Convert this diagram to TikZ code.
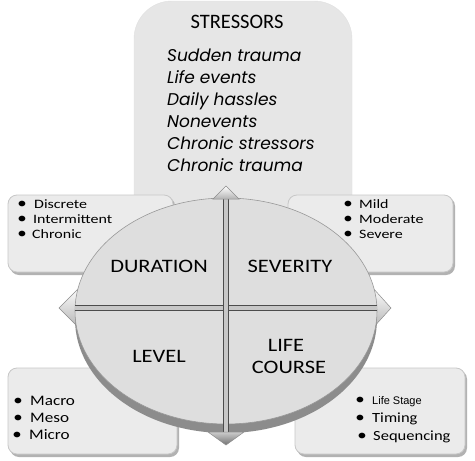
\documentclass[tikz,border=0pt]{standalone}
\usepackage{fontspec}
\setmainfont{Carlito}
\newfontfamily\widefont{Carlito}[FakeStretch=1.18]
\newfontfamily\widerfont{Carlito}[FakeStretch=1.25]
\newfontfamily\gothic{Poppins}
\newfontfamily\arialfont{Liberation Sans}
\newcommand{\bigbul}{\makebox[10pt][c]{\fontsize{16}{16}\selectfont\widefont •}}
\definecolor{boxfill}{HTML}{EBEBEB}
\definecolor{topfill}{HTML}{E6E6E6}
\definecolor{discfill}{HTML}{DEDEDE}
\begin{document}
\begin{tikzpicture}[x=1pt,y=-1pt,
  sidebox/.style={fill=boxfill,draw=black!22,line width=0.8pt,rounded corners=9pt},
  boxshadow/.style={fill=black!30,rounded corners=9pt},
  bulletline/.style={anchor=base west,inner sep=0pt,font=\widerfont\fontsize{12.8}{15}\selectfont},
  quadlabel/.style={anchor=base,inner sep=0pt,font=\widefont\fontsize{19}{22}\selectfont},
  listline/.style={anchor=base west,inner sep=0pt,font=\gothic\itshape\fontsize{17}{20}\selectfont},
  tipshape/.style={top color=white,bottom color=black!30,draw=black!45,line width=0.5pt},
  crossbar/.style={draw=black!70,line width=1.3pt,double=black!22,double distance=3.4pt}
]
\useasboundingbox (0,0) rectangle (475,461);
\fill[white] (0,0) rectangle (475,461);
% top box
\path[fill=topfill,draw=black!12,rounded corners=38pt] (134,1) rectangle (352,300);
\node[anchor=base,inner sep=0pt,font=\fontsize{20.5}{24}\selectfont] (title) at (237,28) {STRESSORS};
\node[listline] (l1) at (167,61) {Sudden trauma};
\node[listline] (l2) at (167,83) {Life events};
\node[listline] (l3) at (167,105) {Daily hassles};
\node[listline] (l4) at (167,127) {Nonevents};
\node[listline] (l5) at (167,149) {Chronic stressors};
\node[listline] (l6) at (167,171) {Chronic trauma};
% side boxes
\fill[boxshadow] (10,197) rectangle (175,275);
\path[sidebox] (8,195) rectangle (173,272);
\fill[boxshadow] (290,197) rectangle (455,275);
\path[sidebox] (288,195) rectangle (453,272);
\fill[boxshadow] (10,370) rectangle (179,457);
\path[sidebox] (8,368) rectangle (177,454);
\fill[boxshadow] (297,370) rectangle (467,457);
\path[sidebox] (295,368) rectangle (465,454);
% bullets
\node[bulletline] (d1) at (17,208) {\bigbul\hspace{7pt}Discrete};
\node[bulletline] (d2) at (17,223) {\bigbul\hspace{6pt}Intermittent};
\node[bulletline] (d3) at (17,238) {\bigbul\hspace{5pt}Chronic};
\node[bulletline] (s1) at (343,208) {\bigbul\hspace{6pt}Mild};
\node[bulletline] (s2) at (343,223) {\bigbul\hspace{6pt}Moderate};
\node[bulletline] (s3) at (343,238) {\bigbul\hspace{6pt}Severe};
\node[bulletline,font=\widefont\fontsize{14.5}{16}\selectfont] (m1) at (13,405) {\bigbul\hspace{7pt}Macro};
\node[bulletline,font=\widefont\fontsize{14.5}{16}\selectfont] (m2) at (13,422) {\bigbul\hspace{7pt}Meso};
\node[bulletline,font=\widefont\fontsize{14.5}{16}\selectfont] (m3) at (12,439) {\bigbul\hspace{7pt}Micro};
\node[bulletline,font=\arialfont\fontsize{11}{13}\selectfont] (c1) at (355,404) {\bigbul\hspace{7pt}Life Stage};
\node[bulletline,font=\widefont\fontsize{14}{16}\selectfont] (c2) at (355,422) {\bigbul\hspace{7pt}Timing};
\node[bulletline,font=\widefont\fontsize{14}{16}\selectfont] (c3) at (357,440) {\bigbul\hspace{6pt}Sequencing};
% side tips (behind disc)
\path[tipshape] (80,287) -- (59,308) -- (80,329) -- cycle;
\path[tipshape] (372,287) -- (391,308) -- (372,329) -- cycle;
% disc
\fill[black!45] (226,319) ellipse [x radius=151, y radius=114];
\path[fill=discfill,draw=black!40,line width=0.6pt] (226,311) ellipse [x radius=151, y radius=113];
\coordinate (hl) at (75,308);
\coordinate (hr) at (377,308);
\coordinate (vt) at (226,198);
\coordinate (vb) at (226,432);
\draw[crossbar] (hl) -- (hr);
\draw[crossbar] (vt) -- (vb);
\path[tipshape] (213,199) -- (226,186) -- (239,199) -- cycle;
\path[tipshape,top color=black!20,bottom color=black!55] (208,432) -- (244,432) -- (226,445) -- cycle;
% quadrant labels
\node[quadlabel] (dur) at (159,272) {DURATION};
\node[quadlabel] (sev) at (290,272) {SEVERITY};
\node[quadlabel] (lev) at (159,362) {LEVEL};
\node[quadlabel] (life) at (286,351) {LIFE};
\node[quadlabel] (course) at (289,373) {COURSE};
\end{tikzpicture}
\end{document}
